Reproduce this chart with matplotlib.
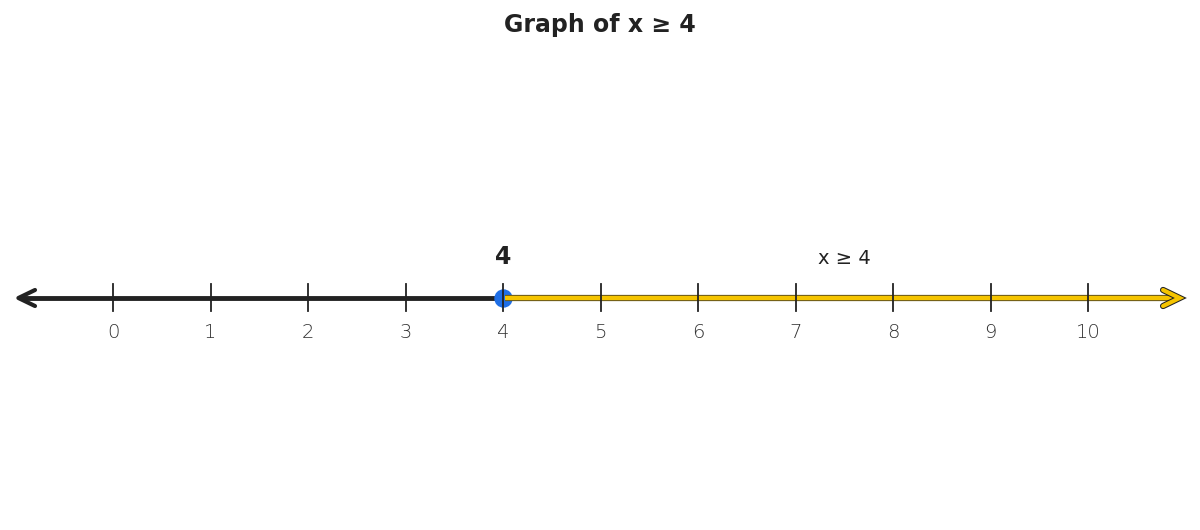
import matplotlib
matplotlib.use("Agg")
import matplotlib.pyplot as plt
import matplotlib.patheffects as pe

ticks = list(range(0, 11))
tick_labels = [str(t) for t in ticks]
boundary = 4
left_end = -0.97
right_end = 10.94
title = "Graph of x ≥ 4"
region_label = "x ≥ 4"

fig = plt.figure(figsize=(12, 5.3), dpi=100)
ax = fig.add_axes([0, 0, 1, 1])
# px -> data: x = (px - 113) / 97.5, y in pixels (inverted)
ax.set_xlim(-113 / 97.5, (1200 - 113) / 97.5)
ax.set_ylim(530, 0)
ax.axis("off")

y0 = 298
dark = "#222222"
yellow = "#f5c400"

# black part
ax.plot([left_end + 0.02, boundary], [y0, y0], color=dark, lw=3.5, solid_capstyle="butt", zorder=2)
ax.plot([left_end + 0.17, left_end, left_end + 0.17], [y0 - 8, y0, y0 + 8], color=dark, lw=3,
        solid_capstyle="round", solid_joinstyle="round", zorder=2)

# dot
ax.scatter([boundary], [y0], s=150, color="#1f6fe6", zorder=3)

# yellow part with dark edge
stroke = [pe.Stroke(linewidth=4.5, foreground="#6b5a1a"), pe.Normal()]
ax.plot([boundary + 0.02, right_end - 0.03], [y0, y0], color=yellow, lw=3, solid_capstyle="butt",
        zorder=4, path_effects=stroke)
ax.plot([right_end - 0.17, right_end, right_end - 0.17], [y0 - 8, y0, y0 + 8], color=yellow, lw=3,
        solid_capstyle="round", solid_joinstyle="miter", zorder=4,
        path_effects=[pe.Stroke(linewidth=4.5, foreground="#222222"), pe.Normal()])

for t, lab in zip(ticks, tick_labels):
    ax.plot([t, t], [y0 - 14, y0 + 13], color=dark, lw=1.3, zorder=5)
    ax.text(t, 332, lab, ha="center", va="center", fontsize=14, color="#333333",
            fontfamily="DejaVu Sans", fontweight="light")

ax.text(boundary, 257, str(boundary), ha="center", va="center", fontsize=17, fontweight="bold", color=dark)
ax.text(7.5, 258, region_label, ha="center", va="center", fontsize=14, color=dark)
ax.text((600 - 113) / 97.5, 25, title, ha="center", va="center", fontsize=17, fontweight="bold", color=dark)

fig.savefig("out.png", dpi=100)
